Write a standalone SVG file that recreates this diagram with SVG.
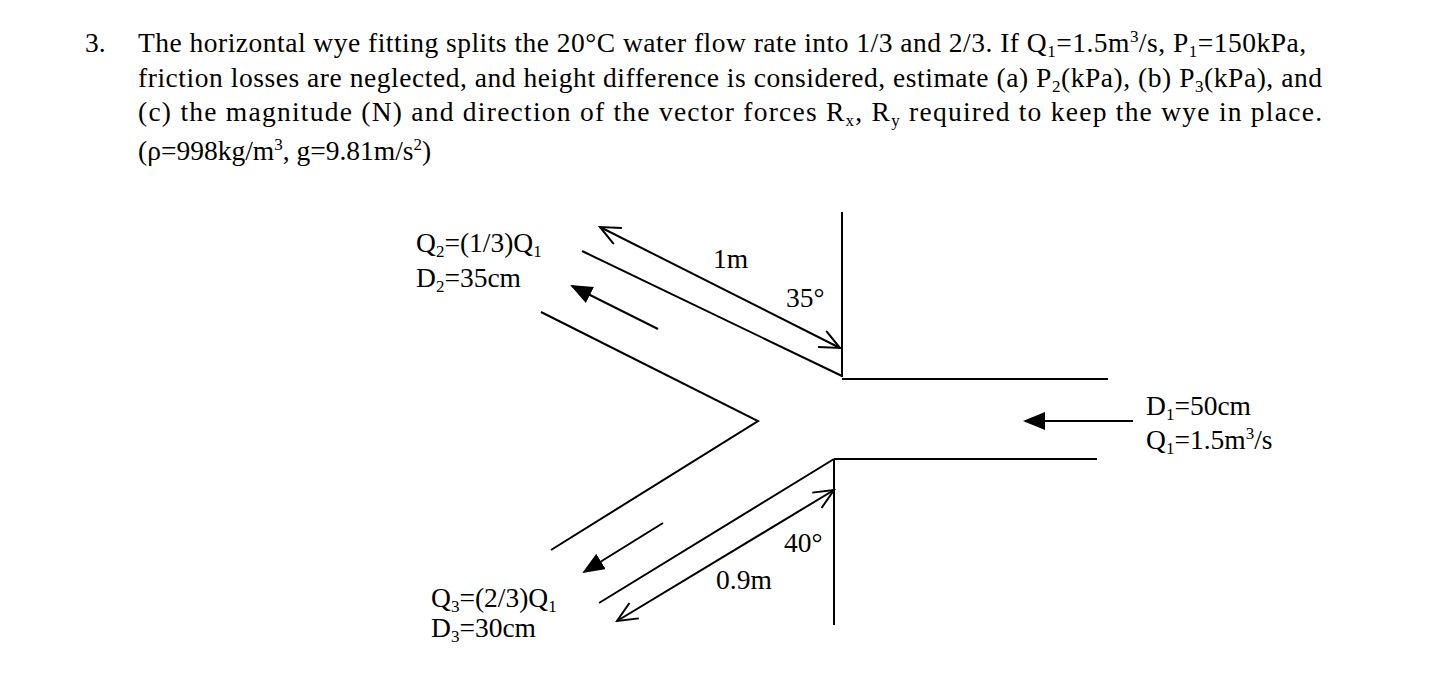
<svg xmlns="http://www.w3.org/2000/svg" width="1443" height="691" viewBox="0 0 1443 691">
<style>
text{font-family:"Liberation Serif","Times New Roman",serif;font-size:27.5px;fill:#000}
.s{font-size:17px}
line,polyline{stroke:#000;stroke-width:2;fill:none}
</style>
<defs>
<marker id="f" markerWidth="22" markerHeight="18" refX="20" refY="9" orient="auto" markerUnits="userSpaceOnUse"><path d="M0,0L22,9L0,18z"/></marker>
<marker id="o" markerWidth="24" markerHeight="20" refX="22" refY="10" orient="auto-start-reverse" markerUnits="userSpaceOnUse"><path d="M2,1L22,10L2,19" fill="none" stroke="#000" stroke-width="2"/></marker>
</defs>
<rect width="1443" height="691" fill="#fff"/>
<g id="problem">
<text x="85" y="52">3.</text>
<text x="138" y="52" textLength="1168" lengthAdjust="spacing">The horizontal wye fitting splits the 20°C water flow rate into 1/3 and 2/3. If Q<tspan class="s" dy="5">1</tspan><tspan dy="-5">=1.5m</tspan><tspan class="s" dy="-10">3</tspan><tspan dy="10">/s, P</tspan><tspan class="s" dy="5">1</tspan><tspan dy="-5">=150kPa,</tspan></text>
<text x="138" y="87" textLength="1184" lengthAdjust="spacing">friction losses are neglected, and height difference is considered, estimate (a) P<tspan class="s" dy="5">2</tspan><tspan dy="-5">(kPa), (b) P</tspan><tspan class="s" dy="5">3</tspan><tspan dy="-5">(kPa), and</tspan></text>
<text x="138" y="121" textLength="1184" lengthAdjust="spacing">(c) the magnitude (N) and direction of the vector forces R<tspan class="s" dy="5">x</tspan><tspan dy="-5">, R</tspan><tspan class="s" dy="5">y</tspan><tspan dy="-5"> required to keep the wye in place.</tspan></text>
<text x="138" y="160">(ρ=998kg/m<tspan class="s" dy="-10">3</tspan><tspan dy="10">, g=9.81m/s</tspan><tspan class="s" dy="-10">2</tspan><tspan dy="10">)</tspan></text>
</g>
<g id="wye">
<line x1="582" y1="251" x2="842" y2="376"/>
<polyline points="541,312 758,421 551,550"/>
<line x1="599" y1="603" x2="834" y2="459"/>
<line x1="842" y1="212" x2="842" y2="377"/>
<line x1="842" y1="379" x2="1108" y2="379"/>
<line x1="834" y1="459" x2="1097" y2="459"/>
<line x1="834" y1="459" x2="834" y2="625"/>
</g>
<g id="connectors">
<line x1="600" y1="227" x2="840" y2="348" marker-start="url(#o)" marker-end="url(#o)"/>
<line x1="617" y1="621" x2="834" y2="490" marker-start="url(#o)" marker-end="url(#o)"/>
<line x1="658" y1="329" x2="572" y2="286" marker-end="url(#f)"/>
<line x1="663" y1="523" x2="584" y2="572" marker-end="url(#f)"/>
<line x1="1133" y1="421" x2="1025" y2="421" marker-end="url(#f)"/>
</g>
<g id="labels">
<text x="416" y="252">Q<tspan class="s" dy="5">2</tspan><tspan dy="-5">=(1/3)Q</tspan><tspan class="s" dy="5">1</tspan></text>
<text x="416" y="287">D<tspan class="s" dy="5">2</tspan><tspan dy="-5">=35cm</tspan></text>
<text x="713" y="268">1m</text>
<text x="786" y="307">35°</text>
<text x="784" y="552">40°</text>
<text x="716" y="589">0.9m</text>
<text x="431" y="607">Q<tspan class="s" dy="5">3</tspan><tspan dy="-5">=(2/3)Q</tspan><tspan class="s" dy="5">1</tspan></text>
<text x="431" y="637">D<tspan class="s" dy="5">3</tspan><tspan dy="-5">=30cm</tspan></text>
<text x="1146" y="415">D<tspan class="s" dy="5">1</tspan><tspan dy="-5">=50cm</tspan></text>
<text x="1146" y="449">Q<tspan class="s" dy="5">1</tspan><tspan dy="-5">=1.5m</tspan><tspan class="s" dy="-10">3</tspan><tspan dy="10">/s</tspan></text>
</g>
</svg>
